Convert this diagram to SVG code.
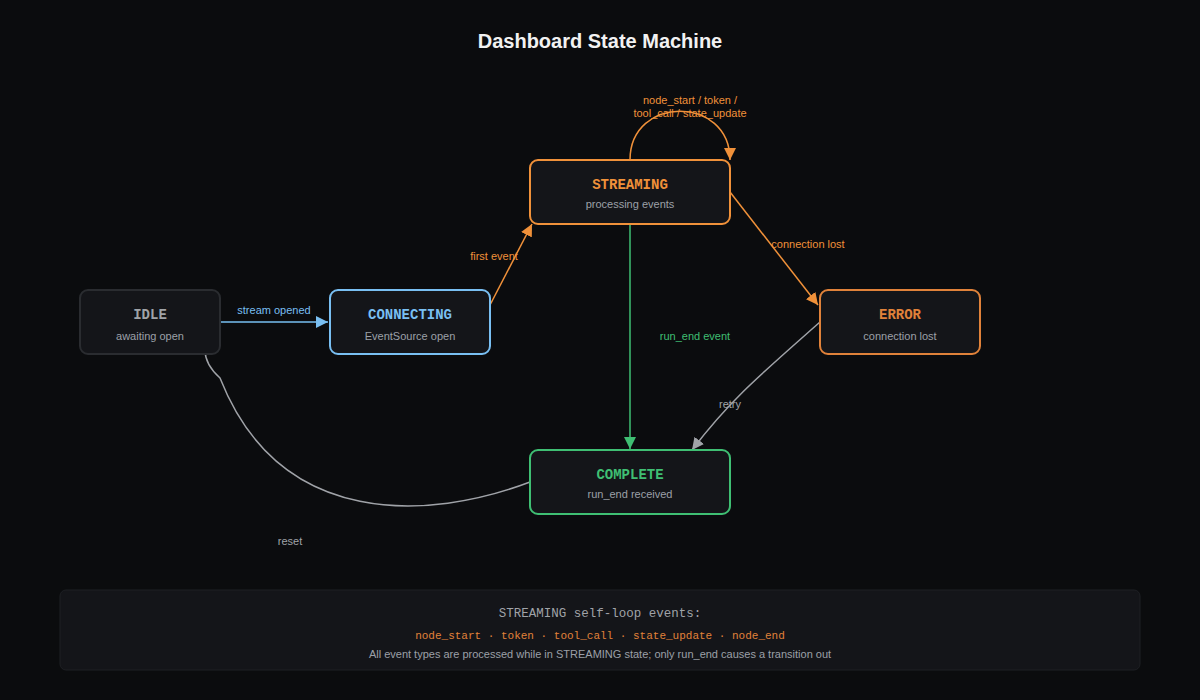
<svg xmlns="http://www.w3.org/2000/svg" width="1200" height="700" viewBox="0 0 1200 700">
<style>
.node{fill:#141519;stroke-width:2}
.t{font-family:"Liberation Mono",monospace;font-weight:bold;font-size:14px;text-anchor:middle}
.s{font-family:"Liberation Sans",Arial,sans-serif;font-size:11px;fill:#9ca0a8;text-anchor:middle}
.l{font-family:"Liberation Sans",Arial,sans-serif;font-size:11px;text-anchor:middle}
.e{fill:none;stroke-width:1.5}
</style>
<defs>
<marker id="ao" viewBox="0 0 10 10" refX="10" refY="5" markerWidth="12" markerHeight="12" markerUnits="userSpaceOnUse" orient="auto"><path d="M0,0L10,5L0,10z" fill="#f0913a"/></marker>
<marker id="ab" viewBox="0 0 10 10" refX="10" refY="5" markerWidth="12" markerHeight="12" markerUnits="userSpaceOnUse" orient="auto"><path d="M0,0L10,5L0,10z" fill="#79bff2"/></marker>
<marker id="ag" viewBox="0 0 10 10" refX="10" refY="5" markerWidth="12" markerHeight="12" markerUnits="userSpaceOnUse" orient="auto"><path d="M0,0L10,5L0,10z" fill="#3fbf73"/></marker>
<marker id="ay" viewBox="0 0 10 10" refX="10" refY="5" markerWidth="12" markerHeight="12" markerUnits="userSpaceOnUse" orient="auto"><path d="M0,0L10,5L0,10z" fill="#a0a3a8"/></marker>
</defs>
<rect width="1200" height="700" fill="#0b0c0e"/>
<text x="600" y="48" font-family="Liberation Sans,Arial,sans-serif" font-size="20" font-weight="bold" fill="#f2f2f2" text-anchor="middle">Dashboard State Machine</text>
<g id="connectors">
<path class="e" stroke="#79bff2" d="M220,322H328" marker-end="url(#ab)"/>
<text class="l" fill="#79bff2" x="274" y="314">stream opened</text>
<path class="e" stroke="#f0913a" d="M490,305L532,224" marker-end="url(#ao)"/>
<text class="l" fill="#f0913a" x="494" y="260">first event</text>
<path class="e" stroke="#f0913a" d="M630,160C630,95 730,95 730,160" marker-end="url(#ao)"/>
<text class="l" fill="#f0913a" x="690" y="104">node_start / token /</text>
<text class="l" fill="#f0913a" x="690" y="117">tool_call / state_update</text>
<path class="e" stroke="#f0913a" d="M730,192L818,305" marker-end="url(#ao)"/>
<text class="l" fill="#f0913a" x="808" y="248">connection lost</text>
<path class="e" stroke="#3fbf73" d="M630,224V449" marker-end="url(#ag)"/>
<text class="l" fill="#3fbf73" x="695" y="340">run_end event</text>
<path class="e" stroke="#a0a3a8" d="M820,322C760,375 730,400 692,450" marker-end="url(#ay)"/>
<text class="l" fill="#a0a3a8" x="730" y="408">retry</text>
<path class="e" stroke="#a0a3a8" d="M530,482C430,520 280,530 220,378C200,360 200,340 220,322" marker-end="url(#ay)"/>
<text class="l" fill="#a0a3a8" x="290" y="545">reset</text>
</g>
<g id="idle"><rect class="node" x="80" y="290" width="140" height="64" rx="8" stroke="#2a2c30"/><text class="t" fill="#a0a3a8" x="150" y="319">IDLE</text><text class="s" x="150" y="340">awaiting open</text></g>
<g id="connecting"><rect class="node" x="330" y="290" width="160" height="64" rx="8" stroke="#79bff2"/><text class="t" fill="#79bff2" x="410" y="319">CONNECTING</text><text class="s" x="410" y="340">EventSource open</text></g>
<g id="streaming"><rect class="node" x="530" y="160" width="200" height="64" rx="8" stroke="#f0913a"/><text class="t" fill="#f0913a" x="630" y="189">STREAMING</text><text class="s" x="630" y="208">processing events</text></g>
<g id="error"><rect class="node" x="820" y="290" width="160" height="64" rx="8" stroke="#e0823a"/><text class="t" fill="#e0823a" x="900" y="319">ERROR</text><text class="s" x="900" y="340">connection lost</text></g>
<g id="complete"><rect class="node" x="530" y="450" width="200" height="64" rx="8" stroke="#3fbf73"/><text class="t" fill="#3fbf73" x="630" y="479">COMPLETE</text><text class="s" x="630" y="498">run_end received</text></g>
<g id="legend"><rect x="60" y="590" width="1080" height="80" rx="6" fill="#141519" stroke="#1e2024"/>
<text x="600" y="617" font-family="Liberation Mono,monospace" font-size="12.5" fill="#a0a3a8" text-anchor="middle">STREAMING self-loop events:</text>
<text x="600" y="639" font-family="Liberation Mono,monospace" font-size="11" fill="#e0823a" text-anchor="middle">node_start · token · tool_call · state_update · node_end</text>
<text class="s" x="600" y="658">All event types are processed while in STREAMING state; only run_end causes a transition out</text></g>
</svg>
